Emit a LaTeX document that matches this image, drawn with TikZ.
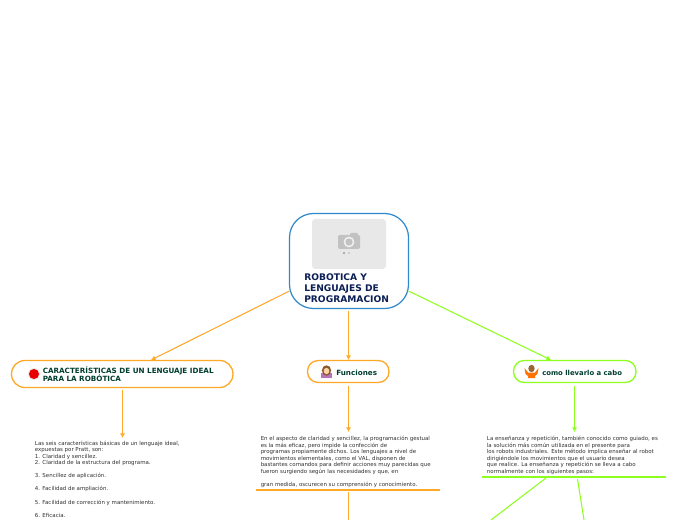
\documentclass[tikz,border=0pt]{standalone}
\usepackage{fontspec}
\setmainfont{DejaVu Sans}
\usetikzlibrary{arrows.meta}
\definecolor{orangeline}{HTML}{FFA929}
\definecolor{greenline}{HTML}{8FFF1F}
\definecolor{rootblue}{HTML}{2E88CC}
\definecolor{titlenavy}{HTML}{0B1F55}
\definecolor{labelgreen}{HTML}{003D2E}
\definecolor{bodygrey}{HTML}{303030}
\tikzset{
  x=0.75pt,y=-0.75pt,
  boxo/.style={draw=orangeline,line width=1pt,fill=white,rounded corners=8pt,inner sep=0pt},
  boxg/.style={boxo,draw=greenline},
  conno/.style={draw=orangeline,line width=0.8pt,-{Latex[length=3.4pt,width=3.8pt]}},
  conng/.style={conno,draw=greenline},
  plaino/.style={draw=orangeline,line width=0.8pt},
  plaing/.style={draw=greenline,line width=0.8pt},
  rulero/.style={draw=orangeline,line width=1.3pt},
  ruleg/.style={draw=greenline,line width=1.3pt},
  bodytext/.style={anchor=north west,inner sep=0pt,align=left,text=bodygrey,font=\fontsize{4.1pt}{4.88pt}\selectfont},
  labeltext/.style={anchor=west,inner sep=0pt,align=left,text=labelgreen,font=\fontsize{5.4pt}{6.2pt}\selectfont\bfseries},
  titletext/.style={anchor=north west,inner sep=0pt,align=left,text=titlenavy,font=\fontsize{6.85pt}{8.3pt}\selectfont\bfseries},
}
\begin{document}
\begin{tikzpicture}
\useasboundingbox (0,0) rectangle (696,520);
\clip (0,0) rectangle (696,520);
\fill[white] (0,0) rectangle (696,520);

% root
\draw[draw=rootblue,line width=0.9pt,fill=white,rounded corners=18pt] (289.5,213.5) rectangle (408.5,308.5);
\coordinate (rootL) at (289.5,291);
\coordinate (rootB) at (348.5,311);
\coordinate (rootR) at (408.5,291);
\fill[fill=gray!18,rounded corners=2.5pt] (312,219) rectangle (386,269);
\node[titletext] (roottitle) at (304,273.5) {ROBOTICA Y\\LENGUAJES DE\\PROGRAMACION};
% camera
\fill[black!24,rounded corners=1pt] (338,235) rectangle (360,249);
\fill[black!24,rounded corners=0.8pt] (350,233) rectangle (358,237);
\fill[gray!12] (349,242) circle[radius=5.4];
\fill[black!24] (349,242) circle[radius=3.6];
\fill[black!40] (344,253) circle[radius=1.2];
\fill[black!22] (349,253) circle[radius=1.1];

% boxes
\draw[boxo,rounded corners=10pt] (11.5,360.5) rectangle (233,387.5);
\draw[boxo] (307.5,360.5) rectangle (389,382.5);
\draw[boxg] (513.5,360.5) rectangle (636,382.5);

\node[labeltext] (caract) at (42.5,374.5) {CARACTERÍSTICAS DE UN LENGUAJE IDEAL\\PARA LA ROBÓTICA};
\node[labeltext] (func) at (336,372.5) {Funciones};
\node[labeltext,font=\fontsize{5.15pt}{6.2pt}\selectfont\bfseries] (como) at (542,372.5) {como llevarlo a cabo};

% icons
\fill[black!12] (34,374) circle[radius=5.8];
\fill[red!92!black] (34,374) circle[radius=5];
% woman
\fill[violet!55!white] (321,372.5) rectangle (332,378);
\fill[brown!70!black] (326.5,370.5) ellipse[x radius=4.6,y radius=5.2];
\fill[orange!35!white] (326.5,371) ellipse[x radius=2.8,y radius=3.2];
% man
\fill[orange!90!red] (528,372.5) -- (535,372.5) -- (538.5,368) -- (537.5,374) -- (535,376) -- (535,378) -- (528,378) -- (528,376) -- (525.5,374) -- (524.5,368) -- cycle;
\fill[brown!80!black] (531.5,368.5) ellipse[x radius=3.2,y radius=3.6];

% text
\node[bodytext] (leftbody) at (34.7,440.8) {Las seis características básicas de un lenguaje ideal,\\expuestas por Pratt, son:\\1. Claridad y sencillez.\\2. Claridad de la estructura del programa.\\[4.88pt]3. Sencillez de aplicación.\\[4.88pt]4. Facilidad de ampliación.\\[4.88pt]5. Facilidad de corrección y mantenimiento.\\[4.88pt]6. Eficacia.};
\node[bodytext] (midbody) at (260.5,436) {En el aspecto de claridad y sencillez, la programación gestual\\es la más eficaz, pero impide la confección de\\programas propiamente dichos. Los lenguajes a nivel de\\movimientos elementales, como el VAL, disponen de\\bastantes comandos para definir acciones muy parecidas que\\fueron surgiendo según las necesidades y que, en\\[4.88pt]gran medida, oscurecen su comprensión y conocimiento.};
\node[bodytext] (rightbody) at (486.7,436) {La enseñanza y repetición, también conocido como guiado, es\\la solución más común utilizada en el presente para\\los robots industriales. Este método implica enseñar al robot\\dirigiéndole los movimientos que el usuario desea\\que realice. La enseñanza y repetición se lleva a cabo\\normalmente con los siguientes pasos:};

% rules
\coordinate (midruleL) at (256,490);
\coordinate (midruleR) at (440,490);
\coordinate (rightruleL) at (482,477);
\coordinate (rightruleR) at (666,477);
\draw[rulero] (midruleL) -- (midruleR);
\draw[ruleg] (rightruleL) -- (rightruleR);

% connector ends
\coordinate (caractT) at (151,360);
\coordinate (funcT) at (348.5,360);
\coordinate (comoT) at (551,360);
\coordinate (caractB) at (122.5,390);
\coordinate (funcB) at (348.5,386);
\coordinate (comoB) at (574.5,386);
\coordinate (leftIn) at (122.5,438);
\coordinate (midIn) at (348.5,432);
\coordinate (rightIn) at (574.5,432);
\coordinate (midOut) at (348.5,492);
\coordinate (midEnd) at (348.5,520);
\coordinate (rightOutA) at (546,478);
\coordinate (rightEndA) at (491,520);
\coordinate (rightOutB) at (577.5,479);
\coordinate (rightEndB) at (584,520);

\draw[conno] (rootL) -- (caractT);
\draw[conno] (rootB) -- (funcT);
\draw[conng] (rootR) -- (comoT);
\draw[conno] (caractB) -- (leftIn);
\draw[conno] (funcB) -- (midIn);
\draw[conng] (comoB) -- (rightIn);
\draw[plaino] (midOut) -- (midEnd);
\draw[plaing] (rightOutA) -- (rightEndA);
\draw[plaing] (rightOutB) -- (rightEndB);
\end{tikzpicture}
\end{document}
